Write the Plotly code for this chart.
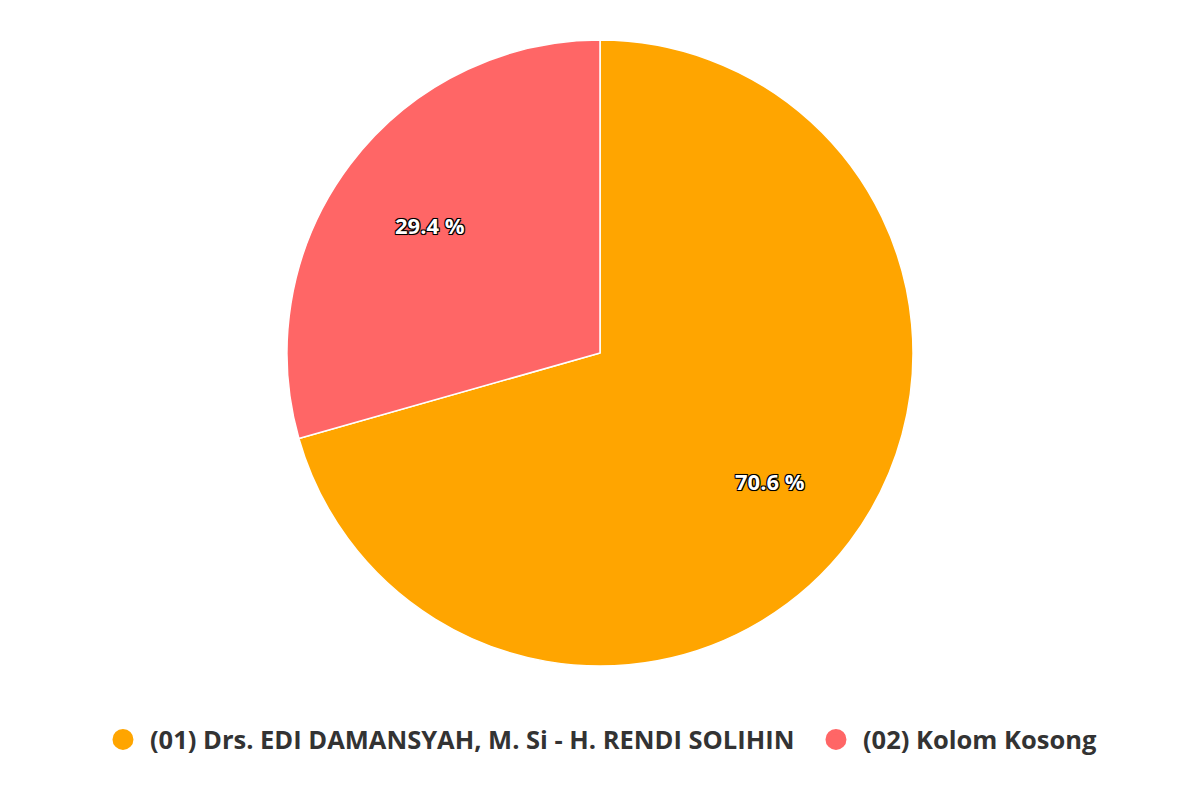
import math
import plotly.graph_objects as go

labels = ["(01) Drs. EDI DAMANSYAH, M. Si - H. RENDI SOLIHIN", "(02) Kolom Kosong"]
values = [70.6, 29.4]
colors = ["#FFA500", "#FF6666"]

W, H = 1200, 800
M = dict(l=0, r=16, t=32, b=142)
plot_w = W - M["l"] - M["r"]
plot_h = H - M["t"] - M["b"]
radius = min(plot_w, plot_h) / 2

fig = go.Figure()

fig.add_trace(go.Pie(
    labels=labels,
    values=values,
    sort=False,
    direction="clockwise",
    rotation=0,
    marker=dict(colors=colors, line=dict(color="white", width=1.5)),
    textinfo="none",
    hoverinfo="label+percent",
    showlegend=False,
))

# percentage labels, placed at ~2/3 radius along each slice's middle angle
total = sum(values)
cum = 0
outline = "-1px -1px 0 #000, 1px -1px 0 #000, -1px 1px 0 #000, 1px 1px 0 #000, 0 0 2px #000"
for v in values:
    mid = (cum + v / 2) / total * 2 * math.pi
    cum += v
    r = 0.68 * radius
    fig.add_annotation(
        x=0.5 + r * math.sin(mid) / plot_w,
        y=0.5 + r * math.cos(mid) / plot_h,
        xref="paper", yref="paper", xanchor="center", yanchor="middle",
        showarrow=False,
        text=f"{v / total * 100:.1f} %",
        font=dict(family="Open Sans", size=22, color="white", weight="bold", shadow=outline),
    )

# legend entries with round markers, one legend box each
legend_x = [0.0743, 0.6765]
leg_names = ["legend", "legend2"]
for name, c, lg in zip(labels, colors, leg_names):
    fig.add_trace(go.Scatter(
        x=[None], y=[None], mode="markers", name=name, legend=lg,
        marker=dict(symbol="circle", size=16, color=c, line=dict(color=c, width=5)),
    ))

leg_style = dict(
    orientation="h", xanchor="left", y=-0.118, yanchor="middle",
    font=dict(family="Open Sans", size=25.5, color="#333333", weight="bold"),
    itemsizing="trace", itemwidth=44, bgcolor="rgba(0,0,0,0)",
)

fig.update_layout(
    width=W, height=H,
    margin=M,
    paper_bgcolor="white", plot_bgcolor="white",
    xaxis=dict(visible=False), yaxis=dict(visible=False),
    font=dict(family="Open Sans", color="#333333"),
    legend=dict(x=legend_x[0], **leg_style),
    legend2=dict(x=legend_x[1], **leg_style),
)

fig.write_html("out.html")
